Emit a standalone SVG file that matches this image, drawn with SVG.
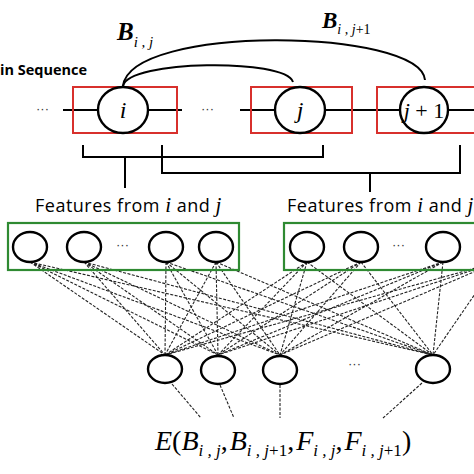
<svg xmlns="http://www.w3.org/2000/svg" width="474" height="474" viewBox="0 0 474 474">
<style>
.ln{stroke:#000;stroke-width:2;fill:none}
.nd{stroke:#000;stroke-width:2.4;fill:#fff}
.red{stroke:#d8302c;stroke-width:2;fill:none}
.grn{stroke:#2f8a32;stroke-width:2.2;fill:none}
.dash{stroke:#222;stroke-width:1.1;stroke-dasharray:3 1.5;fill:none}
.math{font-family:"Liberation Serif","Times New Roman",serif;font-style:italic;fill:#000}
.rm{font-style:normal}
.sans{font-family:"Open Sans","Liberation Sans",sans-serif;fill:#000}
.dots{font-family:"Liberation Sans",sans-serif;font-size:13px;fill:#333}
</style>
<rect width="474" height="474" fill="#fff"/>
<g id="connectors">
  <line class="ln" x1="63" y1="110" x2="182" y2="110"/>
  <line class="ln" x1="240" y1="110" x2="474" y2="110"/>
  <path class="ln" d="M123,86 C128,60 285,58 293,82"/>
  <path class="ln" d="M123,86 C130,24 420,28 425,80"/>
  <path class="ln" d="M83,145 V157 H323 V145 M125,157 V188"/>
  <path class="ln" d="M162,145 V173 H460 V145 M370,173 V192"/>
  <g class="dash">
    <path d="M30,262 L165,355 M30,262 L218,355 M30,262 L280,355 M30,262 L433,355"/>
    <path d="M84,262 L165,355 M84,262 L218,355 M84,262 L280,355 M84,262 L433,355"/>
    <path d="M166,262 L165,355 M166,262 L218,355 M166,262 L280,355 M166,262 L433,355"/>
    <path d="M216,262 L165,355 M216,262 L218,355 M216,262 L280,355 M216,262 L433,355"/>
    <path d="M307,262 L165,355 M307,262 L218,355 M307,262 L280,355 M307,262 L433,355"/>
    <path d="M361,262 L165,355 M361,262 L218,355 M361,262 L280,355 M361,262 L433,355"/>
    <path d="M443,262 L165,355 M443,262 L218,355 M443,262 L280,355 M443,262 L433,355"/>
    <path d="M497,262 L165,355 M497,262 L218,355 M497,262 L280,355 M497,262 L433,355"/>
    <path d="M172,384 L201,418 M220,385 L234,418 M280,385 L280,418 M422,383 L383,418"/>
  </g>
</g>
<g id="labels-top">
  <text class="math" x="117" y="40" font-size="25" font-weight="bold">B<tspan font-size="15" font-weight="normal" dy="7">i , j</tspan></text>
  <text class="math" x="322" y="28" font-size="23" font-weight="bold">B<tspan font-size="14" font-weight="normal" dy="6">i , j</tspan><tspan class="rm" font-size="14" font-weight="normal">+1</tspan></text>
  <text x="0" y="75" font-family="Open Sans, Liberation Sans, sans-serif" font-weight="bold" font-size="14.5" fill="#000">in Sequence</text>
  <text class="dots" x="36" y="113">···</text>
  <text class="dots" x="201" y="113">···</text>
</g>
<g id="box-i">
  <rect class="red" x="73" y="87" width="104" height="46"/>
  <ellipse class="nd" cx="123" cy="110" rx="25" ry="23"/>
  <text class="math" x="123" y="118" font-size="24" text-anchor="middle">i</text>
</g>
<g id="box-j">
  <rect class="red" x="251" y="87" width="101" height="46"/>
  <ellipse class="nd" cx="300" cy="110" rx="25" ry="23"/>
  <text class="math" x="300" y="118" font-size="24" text-anchor="middle">j</text>
</g>
<g id="box-j1">
  <rect class="red" x="377" y="87" width="110" height="46"/>
  <ellipse class="nd" cx="424" cy="110" rx="24" ry="23"/>
  <text class="math" x="424" y="118" font-size="22" text-anchor="middle">j<tspan class="rm"> + 1</tspan></text>
</g>
<g id="feat-label-1">
  <text class="sans" x="35" y="212" font-size="18" letter-spacing="0.5">Features from <tspan class="math" font-size="21">i</tspan> and <tspan class="math" font-size="21">j</tspan></text>
</g>
<g id="feat-label-2">
  <text class="sans" x="287" y="212" font-size="18" letter-spacing="0.5">Features from <tspan class="math" font-size="21">i</tspan> and <tspan class="math" font-size="21">j</tspan></text>
</g>
<g id="features-1">
  <rect class="grn" x="8" y="223" width="231" height="47"/>
  <ellipse class="nd" cx="30" cy="247" rx="17" ry="15"/>
  <ellipse class="nd" cx="84" cy="247" rx="17" ry="15"/>
  <text class="dots" x="116" y="249">···</text>
  <ellipse class="nd" cx="166" cy="247" rx="17" ry="15"/>
  <ellipse class="nd" cx="216" cy="247" rx="17" ry="15"/>
</g>
<g id="features-2">
  <rect class="grn" x="284" y="223" width="200" height="47"/>
  <ellipse class="nd" cx="307" cy="247" rx="17" ry="15"/>
  <ellipse class="nd" cx="361" cy="247" rx="17" ry="15"/>
  <text class="dots" x="392" y="249">···</text>
  <ellipse class="nd" cx="443" cy="247" rx="17" ry="15"/>
</g>
<g id="hidden">
  <ellipse class="nd" cx="165" cy="369" rx="17" ry="14"/>
  <ellipse class="nd" cx="218" cy="370" rx="17" ry="14"/>
  <ellipse class="nd" cx="280" cy="370" rx="17" ry="14"/>
  <text class="dots" x="348" y="368">···</text>
  <ellipse class="nd" cx="433" cy="369" rx="17" ry="14"/>
</g>
<g id="energy">
  <text class="math" x="155" y="450" font-size="28">E<tspan class="rm">(</tspan>B<tspan font-size="17" dy="6">i , j</tspan><tspan class="rm" dy="-6">,</tspan><tspan dx="2">B</tspan><tspan font-size="17" dy="6">i , j</tspan><tspan class="rm" font-size="17">+1</tspan><tspan class="rm" dy="-6">,</tspan><tspan dx="2">F</tspan><tspan font-size="17" dy="6">i , j</tspan><tspan class="rm" dy="-6">,</tspan><tspan dx="2">F</tspan><tspan font-size="17" dy="6">i , j</tspan><tspan class="rm" font-size="17">+1</tspan><tspan class="rm" dy="-6">)</tspan></text>
</g>
</svg>
